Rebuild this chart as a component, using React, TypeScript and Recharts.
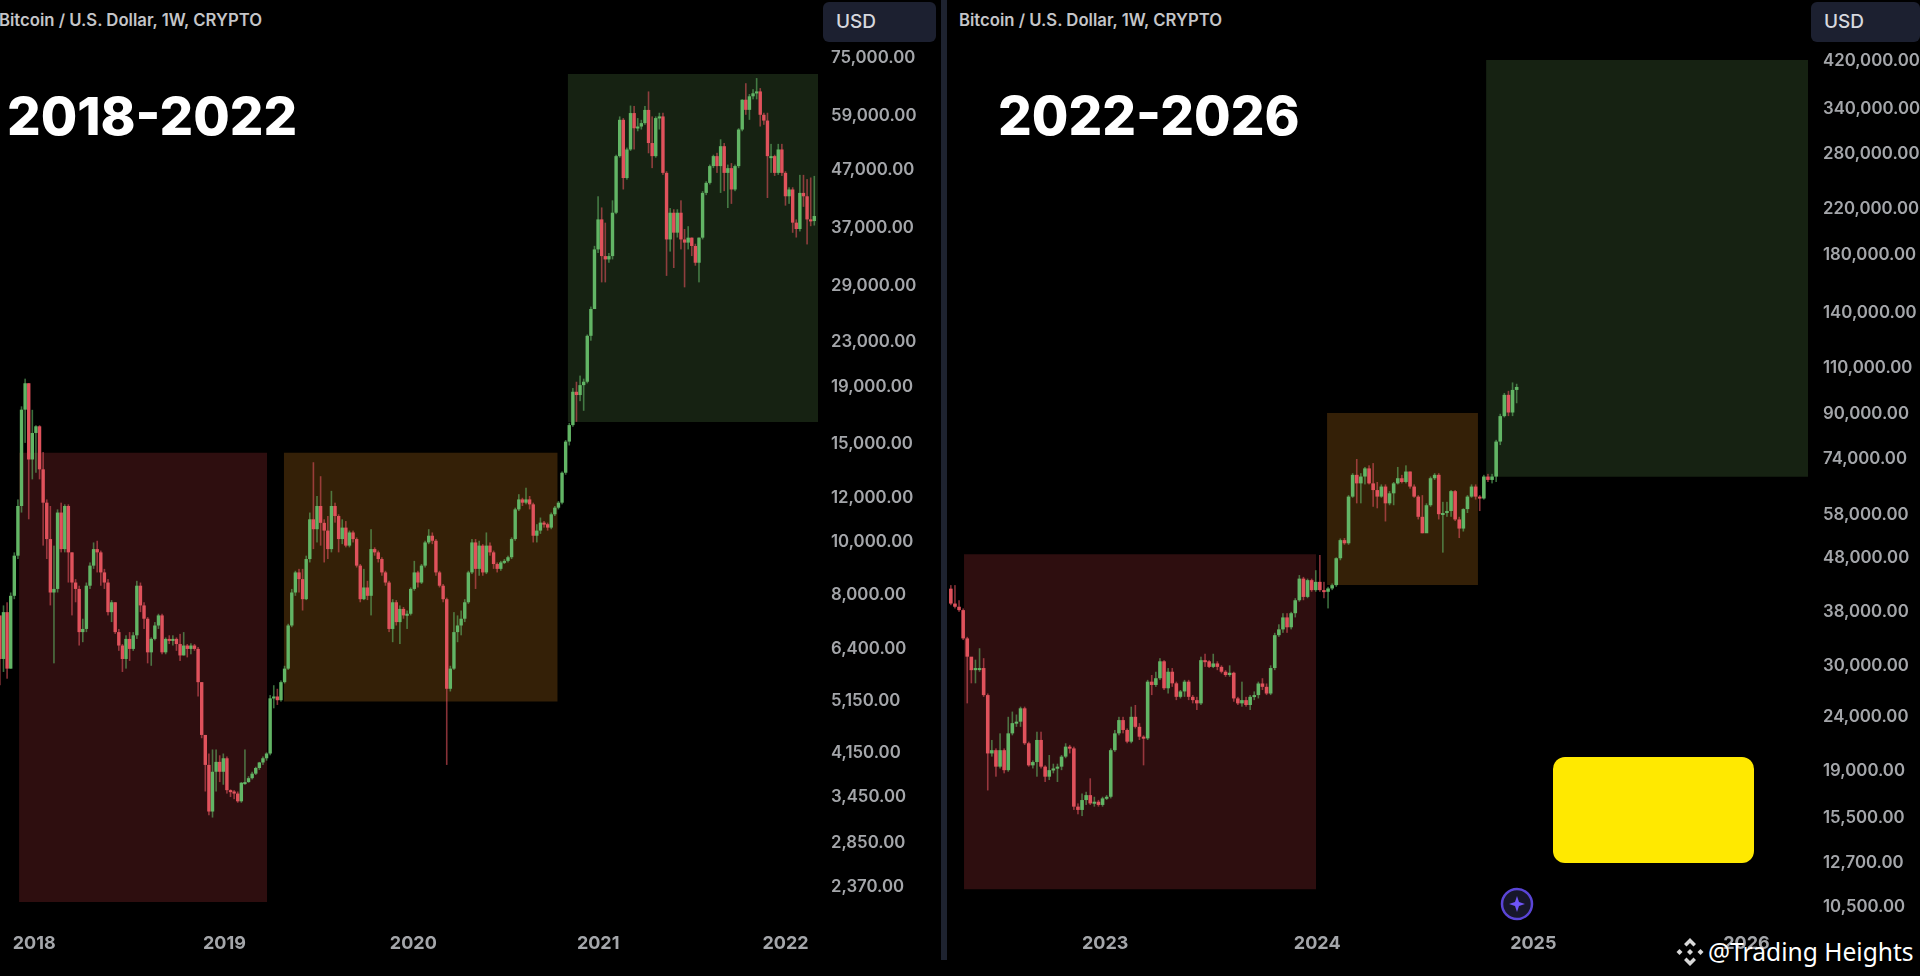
import React from "react"
import { ComposedChart, Bar, XAxis, YAxis, ReferenceArea } from "recharts"

const GREEN = "#62b565"
const RED = "#e0525c"

// weekly candles 2017-10 .. 2022-03
const leftFirstOpen = 7290
const leftCloses = [
  6080, 7390, 5840, 7910, 9350, 11500, 17180, 19180, 13960, 15590, 16030, 13400, 11660, 10020, 8020, 8140, 11190, 9610, 11500, 9480,
  8360, 8140, 6800, 6890, 8250, 8970, 9610, 9480, 8720, 8360, 7390, 7700, 6800, 6430, 6080, 6610, 6340, 6710, 8250, 7600,
  7190, 6250, 6610, 6990, 7290, 6250, 6610, 6570, 6610, 6470, 6170, 6430, 6340, 6430, 6340, 5520, 4430, 3910, 3220, 3800,
  3960, 3800, 4020, 3520, 3500, 3470, 3360, 3630, 3640, 3700, 3770, 3860, 3950, 4020, 4100, 5160, 5200, 5120, 5520, 5840,
  6990, 8020, 8720, 8480, 7800, 9220, 10880, 10440, 11500, 10720, 10380, 9610, 11500, 11030, 10020, 10510, 9750, 10300, 10020, 8970,
  7800, 8190, 7910, 9610, 9480, 9220, 8720, 8360, 6890, 7700, 7090, 7490, 7290, 7340, 8140, 8720, 8360, 8970, 9880, 10160,
  9950, 8720, 8250, 7800, 5370, 5840, 6800, 6990, 7190, 7700, 8720, 9880, 8850, 9750, 8720, 9750, 9480, 9030, 8850, 9090,
  9150, 9290, 10020, 11340, 11820, 11660, 11820, 11580, 10160, 10380, 10730, 10660, 10510, 11110, 11420, 11660, 13210, 15040, 16110, 18510,
  18260, 19030, 19300, 23370, 26130, 33500, 37960, 32580, 32130, 32580, 39030, 49410, 57480, 45100, 50800, 59120, 55500, 55900, 56700, 59900,
  52180, 49410, 57900, 58300, 46080, 34920, 39030, 35920, 39030, 34920, 34460, 35180, 33980, 31690, 35180, 42390, 44200, 47400, 49410, 47400,
  51500, 46080, 47000, 43000, 47400, 55200, 62500, 59920, 63400, 64200, 64700, 58700, 57300, 49410, 49410, 46080, 50800, 46080, 41800, 43000,
  37450, 36470, 42390, 41800, 37960, 37700, 38500,
]
const leftHighs = [
  6610, 7600, 7700, 8020, 9480, 11820, 17420, 19550, 19180, 17170, 16100, 16100, 14400, 11820, 11500, 9750, 11340, 11660, 11580, 11580,
  9480, 8480, 8250, 7190, 8360, 9090, 9880, 9950, 9550, 8850, 8480, 7770, 7700, 6890, 6470, 6710, 6800, 6800, 8420, 8360,
  7700, 7240, 6650, 7090, 7340, 7340, 6650, 6710, 6710, 6650, 6750, 6800, 6470, 6490, 6470, 6390, 5520, 4430, 4100, 4170,
  4170, 4070, 4100, 4050, 3530, 3520, 3500, 3640, 4170, 3730, 3800, 3880, 3960, 4050, 4120, 5230, 5450, 5370, 5560, 5910,
  7040, 8140, 8780, 8850, 8850, 9350, 11190, 13800, 11990, 13020, 10880, 11030, 12250, 11660, 11110, 10880, 10800, 10380, 10380, 10090,
  9030, 8850, 8420, 10440, 9680, 9550, 9290, 8780, 8420, 7800, 7770, 7600, 7550, 7440, 8190, 9150, 8780, 9030, 9950, 10440,
  10300, 10020, 8780, 8310, 7850, 5910, 7390, 7290, 7440, 7800, 8780, 10020, 10020, 9950, 9810, 10300, 9880, 9550, 9090, 9150,
  9220, 9350, 10090, 11420, 12080, 11900, 12410, 11990, 11660, 10660, 10960, 10800, 10730, 11190, 11500, 11740, 13280, 15140, 16260, 18800,
  19300, 19800, 19550, 23500, 26400, 34000, 41800, 39900, 37450, 33000, 41100, 49700, 58300, 57900, 51200, 61000, 60900, 57900, 57480, 60900,
  64700, 58300, 58300, 59200, 59200, 46400, 39800, 39600, 39600, 41100, 36470, 36900, 35200, 34300, 35200, 42700, 44500, 47700, 49700, 50100,
  53000, 52180, 47700, 48000, 47700, 55500, 62600, 66950, 64000, 65300, 68400, 65600, 59200, 59200, 52000, 49700, 52000, 52000, 46400, 43400,
  43400, 37960, 45700, 45700, 44900, 45200, 45500,
]
const leftLows = [
  5450, 5760, 5600, 5840, 7800, 9220, 11190, 14960, 10880, 12850, 13210, 12850, 9750, 9220, 7600, 5970, 8020, 9480, 9480, 8360,
  7290, 7700, 6430, 6520, 6800, 8140, 8850, 8720, 8250, 8140, 7290, 7090, 6750, 6290, 5760, 5840, 6030, 6290, 6610, 7390,
  6890, 5970, 5910, 6570, 6890, 6200, 6200, 6470, 6430, 6290, 6030, 6170, 6120, 6200, 6290, 5200, 4370, 3500, 3170, 3140,
  3500, 3640, 3600, 3470, 3420, 3390, 3340, 3340, 3600, 3630, 3680, 3750, 3830, 3910, 3980, 4070, 4950, 5020, 5090, 5490,
  5810, 6940, 7910, 8020, 7440, 7770, 9090, 9610, 9880, 9750, 9090, 9220, 9480, 10730, 9480, 9810, 9680, 9680, 9880, 8900,
  7700, 7770, 7770, 7290, 9350, 9090, 8600, 8250, 6800, 6520, 6990, 6470, 7190, 6890, 7290, 8080, 8190, 8310, 8900, 9810,
  9810, 8600, 8190, 7700, 3910, 5310, 5810, 6520, 6710, 7090, 7650, 8660, 8140, 8600, 8600, 8660, 9350, 8850, 8720, 8780,
  9030, 9090, 9220, 9950, 11260, 11500, 11580, 11340, 9880, 9880, 10240, 10510, 10380, 10440, 11030, 11340, 11580, 13100, 14800, 16000,
  16330, 17800, 17100, 19170, 22900, 26500, 33000, 29200, 29200, 31690, 32130, 38800, 49100, 43000, 44800, 50500, 50800, 54800, 55200, 56300,
  50000, 47000, 49100, 55200, 45700, 30000, 33200, 31000, 35200, 33500, 28600, 33500, 32580, 31300, 29200, 34920, 42000, 43900, 47000, 46080,
  42390, 42700, 39800, 40500, 42700, 47000, 54800, 58700, 57480, 62600, 62600, 55900, 56300, 41500, 46080, 45500, 45700, 45500, 40200, 40500,
  35900, 35200, 36100, 40000, 34200, 36900, 37000,
]

// weekly candles 2022-05 .. 2024-12
const rightFirstOpen = 41700
const rightCloses = [
  39080, 38540, 37980, 33570, 31000, 29230, 29500, 29500, 26220, 20330, 20620, 19190, 20620, 18900, 22190, 23200, 23350, 24750, 21250, 19300,
  19580, 21560, 19190, 18370, 18900, 19040, 19190, 20050, 20940, 20780, 16120, 15890, 16590, 16950, 16350, 16470, 16240, 16710, 16830, 20620,
  22190, 23510, 22520, 21400, 23850, 22830, 21870, 21710, 27800, 27400, 28220, 30380, 27010, 29030, 27600, 26020, 26640, 27800, 26020, 25650,
  25290, 30530, 30380, 29650, 30100, 29650, 29030, 28620, 28900, 25840, 25290, 25650, 25110, 26020, 26220, 27580, 27180, 26400, 29500, 34050,
  34920, 36790, 35240, 37470, 39650, 43570, 40230, 43280, 41440, 42960, 41440, 41140, 41740, 42350, 47620, 51530, 50830, 62300, 68500, 66000,
  68000, 70460, 66000, 64100, 62300, 65090, 60500, 63200, 66000, 67500, 66400, 69500, 65090, 62300, 57050, 53100, 60000, 67500, 68500, 57700,
  58000, 58500, 63800, 56400, 54200, 59000, 62300, 65090, 62300, 61800, 68000, 67000, 68000, 79200, 88500, 97100, 89900, 99200, 100500,
]
const rightHighs = [
  42350, 42350, 39650, 38260, 33800, 30800, 30600, 32160, 30800, 26400, 21560, 20780, 22190, 20780, 23850, 24400, 24090, 24930, 24930, 21400,
  19720, 22350, 22350, 19300, 20190, 19440, 19440, 20190, 21250, 21100, 20940, 16350, 17070, 17200, 18240, 16830, 16600, 16830, 16950, 20780,
  22520, 23850, 23850, 22670, 24930, 25110, 23200, 22000, 28020, 28620, 29030, 30800, 30530, 29500, 29500, 27800, 26810, 28020, 28020, 26220,
  26020, 31000, 31400, 30530, 31400, 30380, 29850, 29230, 29850, 29030, 26020, 27800, 26020, 26220, 26640, 27800, 28220, 27580, 29850, 34400,
  35700, 37470, 37470, 37700, 40000, 44250, 43900, 43570, 43570, 45200, 48300, 42960, 42050, 42650, 47800, 51900, 52000, 62700, 69000, 73400,
  69000, 70900, 71400, 72100, 66400, 65700, 65700, 63800, 66400, 70900, 68500, 71400, 69500, 65700, 62700, 62700, 60500, 68000, 69000, 69000,
  60900, 60900, 64100, 64100, 57050, 59200, 62700, 65700, 65700, 62700, 68500, 68800, 68800, 79800, 89400, 97900, 98800, 102500, 101900,
]
const rightLows = [
  38800, 38260, 37700, 33330, 25290, 27600, 27600, 29030, 26020, 17300, 20050, 18370, 19040, 18640, 18770, 22000, 22830, 22830, 21100, 19190,
  19040, 18370, 19040, 17950, 18100, 18640, 17950, 18900, 19910, 20330, 15890, 15590, 15470, 16240, 16240, 16120, 16120, 16120, 16600, 16710,
  20470, 22000, 22190, 21250, 21250, 22670, 21560, 19300, 21560, 26220, 27180, 28020, 26810, 26400, 27180, 25650, 25840, 26020, 25650, 25290,
  24570, 25110, 29650, 29500, 29500, 29230, 28820, 28400, 28400, 25470, 25110, 24930, 24930, 24570, 25650, 25840, 26810, 26220, 26220, 29230,
  33800, 34400, 34400, 34920, 36790, 39400, 39650, 40000, 41140, 41140, 41140, 40000, 38260, 41440, 42050, 47200, 50500, 50500, 62000, 60500,
  60500, 65700, 65700, 59600, 59200, 62000, 55900, 60000, 60000, 65700, 66000, 66000, 64500, 62000, 56400, 53100, 53500, 59600, 67000, 56400,
  48800, 57050, 57050, 56000, 52000, 53500, 58000, 62000, 61500, 58500, 61500, 66400, 66000, 66400, 78000, 88000, 88500, 88500, 93600,
]

const leftPriceTicks = [75000, 59000, 47000, 37000, 29000, 23000, 19000, 15000, 12000, 10000, 8000, 6400, 5150, 4150, 3450, 2850, 2370]
const rightPriceTicks = [420000, 340000, 280000, 220000, 180000, 140000, 110000, 90000, 74000, 58000, 48000, 38000, 30000, 24000, 19000, 15500, 12700, 10500]

const leftYearWeeks = [9.5, 62.3, 114.7, 166, 218]
const leftYearLabels = ["2018", "2019", "2020", "2021", "2022"]
const rightYearWeeks = [37.6, 89.3, 142, 194]
const rightYearLabels = ["2023", "2024", "2025", "2026"]

const buildCandles = (firstOpen: number, closes: number[], highs: number[], lows: number[]) =>
  closes.map((close, i) => ({
    week: i,
    open: i === 0 ? firstOpen : closes[i - 1],
    close,
    high: highs[i],
    low: lows[i],
    range: [lows[i], highs[i]],
  }))

const leftData = buildCandles(leftFirstOpen, leftCloses, leftHighs, leftLows)
const rightData = buildCandles(rightFirstOpen, rightCloses, rightHighs, rightLows)

// wick spans the whole bar, open and close are placed on the same log scale
const Candle = (props: any) => {
  const { x, y, width, height, payload } = props
  if (!payload) return null
  const { open, close, high, low } = payload
  const span = Math.log(high / low) || 1
  const yOf = (v: number) => y + (height * Math.log(high / v)) / span
  const up = close >= open
  const color = up ? GREEN : RED
  const top = yOf(Math.max(open, close))
  const bottom = yOf(Math.min(open, close))
  const cx = x + width / 2
  return (
    <g>
      <rect x={cx - 0.8} y={y} width={1.6} height={height} fill={color} opacity={0.6} />
      <rect x={x} y={top} width={width} height={Math.max(bottom - top, 2)} fill={color} />
    </g>
  )
}

const priceLabel = (v: number) => v.toLocaleString("en-US", { minimumFractionDigits: 2 })

const axisFont = { fontFamily: "Inter", fontWeight: 600, fontSize: 16.8, fill: "#a4a6aa", dy: 1 }
const yearFont = { fontFamily: "Inter", fontWeight: 700, fontSize: 18, fill: "#a4a6aa", dy: 1 }

const chartHeaderStyle: React.CSSProperties = {
  position: "absolute",
  top: 10,
  fontFamily: "Inter",
  fontWeight: 600,
  fontSize: 16.7,
  color: "#c4c5c8",
  whiteSpace: "nowrap",
}
const titleStyle: React.CSSProperties = {
  position: "absolute",
  top: 84,
  fontFamily: "Inter",
  fontWeight: 800,
  color: "#fff",
  whiteSpace: "nowrap",
}
const usdStyle: React.CSSProperties = {
  position: "absolute",
  top: 2,
  height: 40,
  lineHeight: "40px",
  background: "#1c2030",
  borderRadius: 6,
  color: "#d6d8de",
  fontFamily: "Inter",
  fontWeight: 500,
  fontSize: 19,
  paddingLeft: 13,
  boxSizing: "border-box",
}

export default function App() {
  return (
    <div style={{ position: "absolute", left: 0, top: 0, width: 1920, height: 976, background: "#000", overflow: "hidden" }}>
      <div style={{ position: "absolute", left: 0, top: 0, filter: "blur(0.7px)" }}>
        <ComposedChart width={940} height={976} data={leftData} margin={{ top: 0, right: 0, bottom: 0, left: 0 }}>
          <XAxis
            dataKey="week"
            type="number"
            scale="linear"
            domain={[0, 227]}
            allowDataOverflow
            ticks={leftYearWeeks}
            tickFormatter={(w) => leftYearLabels[leftYearWeeks.indexOf(w)]}
            height={56}
            axisLine={false}
            tickLine={false}
            tickSize={0}
            tickMargin={15}
            tick={yearFont}
            interval={0}
          />
          <YAxis
            orientation="right"
            type="number"
            scale="log"
            domain={[2049, 94700]}
            allowDataOverflow
            ticks={leftPriceTicks}
            tickFormatter={priceLabel}
            width={122}
            axisLine={false}
            tickLine={false}
            tickSize={0}
            tickMargin={13}
            tick={axisFont}
            interval={0}
          />
          <ReferenceArea x1={5.3} x2={74.1} y1={2209} y2={14350} fill="#2e0e0f" fillOpacity={1} stroke="none" />
          <ReferenceArea x1={78.8} x2={154.7} y1={5090} y2={14350} fill="#342007" fillOpacity={1} stroke="none" />
          <ReferenceArea x1={157.6} x2={227} y1={16320} y2={69580} fill="#162212" fillOpacity={1} stroke="none" />
          <Bar dataKey="range" barSize={3.4} shape={Candle} isAnimationActive={false} />
        </ComposedChart>
      </div>

      <div style={{ position: "absolute", left: 947, top: 0, filter: "blur(0.7px)" }}>
        <ComposedChart width={973} height={976} data={rightData} margin={{ top: 0, right: 0, bottom: 0, left: 0 }}>
          <XAxis
            dataKey="week"
            type="number"
            scale="linear"
            domain={[-1, 209]}
            allowDataOverflow
            ticks={rightYearWeeks}
            tickFormatter={(w) => rightYearLabels[rightYearWeeks.indexOf(w)]}
            height={56}
            axisLine={false}
            tickLine={false}
            tickSize={0}
            tickMargin={15}
            tick={yearFont}
            interval={0}
          />
          <YAxis
            orientation="right"
            type="number"
            scale="log"
            domain={[9833, 543200]}
            allowDataOverflow
            ticks={rightPriceTicks}
            tickFormatter={priceLabel}
            width={112}
            axisLine={false}
            tickLine={false}
            tickSize={0}
            tickMargin={15}
            tick={axisFont}
            interval={0}
          />
          <ReferenceArea x1={3.15} x2={89} y1={11250} y2={48480} fill="#2e0e0f" fillOpacity={1} stroke="none" />
          <ReferenceArea x1={91.7} x2={128.5} y1={42370} y2={89700} fill="#342007" fillOpacity={1} stroke="none" />
          <ReferenceArea x1={130.5} x2={209} y1={67900} y2={418000} fill="#162212" fillOpacity={1} stroke="none" />
          <Bar dataKey="range" barSize={3.6} shape={Candle} isAnimationActive={false} />
        </ComposedChart>
      </div>

      <div style={{ position: "absolute", left: 941, top: 0, width: 6, height: 960, background: "#1e2330" }} />

      <div style={{ ...chartHeaderStyle, left: -1 }}>Bitcoin / U.S. Dollar, 1W, CRYPTO</div>
      <div style={{ ...chartHeaderStyle, left: 959 }}>Bitcoin / U.S. Dollar, 1W, CRYPTO</div>
      <div style={{ ...usdStyle, left: 823, width: 113 }}>USD</div>
      <div style={{ ...usdStyle, left: 1811, width: 109 }}>USD</div>
      <div style={{ ...titleStyle, left: 7, fontSize: 52.8 }}>2018-2022</div>
      <div style={{ ...titleStyle, left: 998, fontSize: 53 }}>2022-2026</div>

      <div style={{ position: "absolute", left: 1553, top: 757, width: 201, height: 106, background: "#ffe900", borderRadius: 12 }} />

      <svg style={{ position: "absolute", left: 1499, top: 886 }} width={36} height={36} viewBox="0 0 36 36">
        <circle cx={18} cy={18} r={15} fill="#17172a" stroke="#5a45d6" strokeWidth={2.5} />
        <path d="M18 10 L20 16 L26 18 L20 20 L18 26 L16 20 L10 18 L16 16 Z" fill="#6f55f7" />
      </svg>

      <svg style={{ position: "absolute", left: 1676, top: 938 }} width={28} height={28} viewBox="0 0 28 28">
        <g fill="#d8d8d8">
          <path d="M14 0 L20 6 L17.5 8.5 L14 5 L10.5 8.5 L8 6 Z" />
          <path d="M14 28 L20 22 L17.5 19.5 L14 23 L10.5 19.5 L8 22 Z" />
          <path d="M3.5 11 L6.5 14 L3.5 17 L0.5 14 Z" />
          <path d="M24.5 11 L27.5 14 L24.5 17 L21.5 14 Z" />
          <path d="M14 11 L17 14 L14 17 L11 14 Z" />
        </g>
      </svg>
      <div style={{ position: "absolute", left: 1708, top: 935, fontFamily: "Noto Sans", fontSize: 24.6, color: "#fff", whiteSpace: "nowrap" }}>
        @Trading Heights
      </div>
    </div>
  )
}
